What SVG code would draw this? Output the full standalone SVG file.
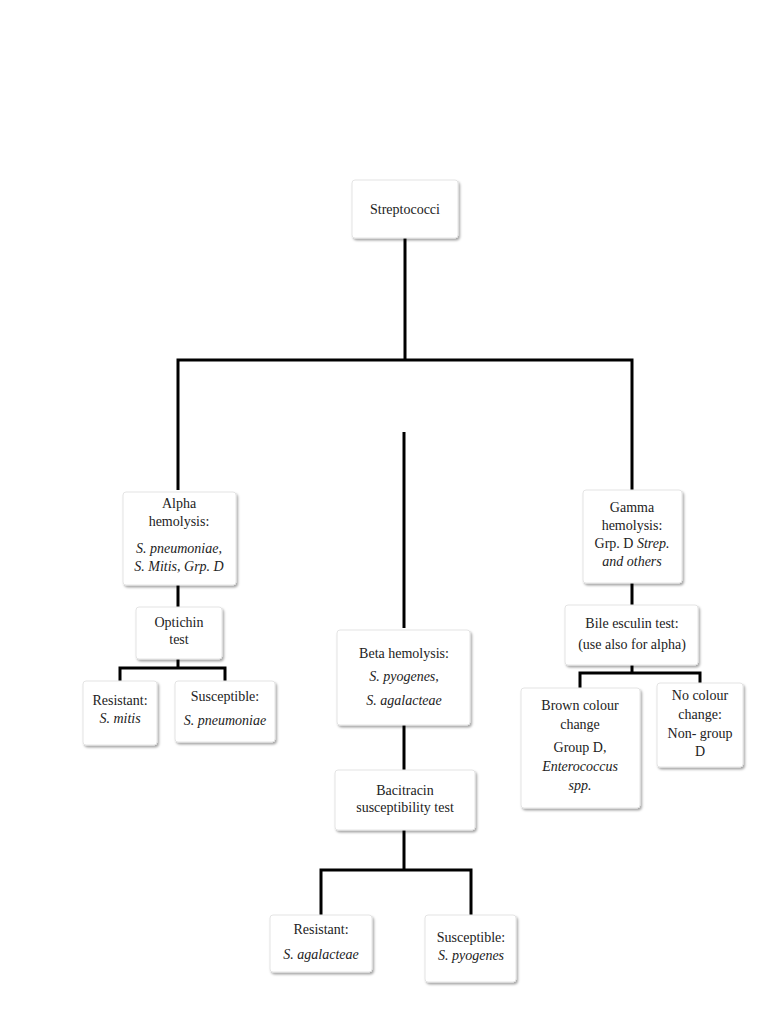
<svg xmlns="http://www.w3.org/2000/svg" width="768" height="1024" viewBox="0 0 768 1024">
<defs>
<filter id="sh" x="-10%" y="-10%" width="130%" height="130%"><feDropShadow dx="1.5" dy="2" stdDeviation="1.2" flood-color="#000" flood-opacity="0.35"/></filter>
</defs>
<style>
.b{fill:#fff;stroke:#e4e4e4;stroke-width:1;filter:url(#sh)}
text{font-family:"Liberation Serif",serif;font-size:14px;fill:#222;text-anchor:middle}
.i{font-style:italic}
.c{stroke:#000;stroke-width:3;fill:none}
</style>
<rect width="768" height="1024" fill="#fff"/>
<g id="connectors">
<path class="c" d="M405 238V360M178 490V360H632V490"/>
<path class="c" d="M404 432V628"/>
<path class="c" d="M178 585V607M178 659V668M120 684V668H225V684"/>
<path class="c" d="M404 725V770M404 830V870M321 915V870H471V915"/>
<path class="c" d="M632 583V605M632 665V673M580 688V673H700V685"/>
</g>
<g id="n-strep"><rect class="b" x="352" y="180" width="106" height="58" rx="3"/><text x="405" y="214">Streptococci</text></g>
<g id="n-alpha"><rect class="b" x="123" y="492" width="113" height="93" rx="3"/><text x="179" y="508">Alpha</text><text x="179" y="526">hemolysis:</text><text class="i" x="179" y="553">S. pneumoniae,</text><text class="i" x="179" y="571">S. Mitis, Grp. D</text></g>
<g id="n-opt"><rect class="b" x="136" y="607" width="86" height="52" rx="3"/><text x="179" y="627">Optichin</text><text x="179" y="644">test</text></g>
<g id="n-res1"><rect class="b" x="83" y="681" width="74" height="64" rx="3"/><text x="120" y="705">Resistant:</text><text class="i" x="120" y="723">S. mitis</text></g>
<g id="n-sus1"><rect class="b" x="175" y="681" width="100" height="61" rx="3"/><text x="225" y="701">Susceptible:</text><text class="i" x="225" y="725">S. pneumoniae</text></g>
<g id="n-beta"><rect class="b" x="337" y="630" width="133" height="95" rx="3"/><text x="404" y="658">Beta hemolysis:</text><text class="i" x="404" y="681">S. pyogenes,</text><text class="i" x="404" y="705">S. agalacteae</text></g>
<g id="n-baci"><rect class="b" x="335" y="770" width="140" height="60" rx="3"/><text x="405" y="795">Bacitracin</text><text x="405" y="812">susceptibility test</text></g>
<g id="n-res2"><rect class="b" x="270" y="915" width="102" height="57" rx="3"/><text x="321" y="934">Resistant:</text><text class="i" x="321" y="959">S. agalacteae</text></g>
<g id="n-sus2"><rect class="b" x="425" y="915" width="91" height="67" rx="3"/><text x="471" y="942">Susceptible:</text><text class="i" x="471" y="960">S. pyogenes</text></g>
<g id="n-gamma"><rect class="b" x="583" y="490" width="99" height="93" rx="3"/><text x="632" y="512">Gamma</text><text x="632" y="530">hemolysis:</text><text x="632" y="548">Grp. D <tspan class="i">Strep.</tspan></text><text class="i" x="632" y="566">and others</text></g>
<g id="n-bile"><rect class="b" x="565" y="605" width="133" height="60" rx="3"/><text x="632" y="628">Bile esculin test:</text><text x="632" y="649">(use also for alpha)</text></g>
<g id="n-brown"><rect class="b" x="521" y="688" width="119" height="120" rx="3"/><text x="580" y="710">Brown colour</text><text x="580" y="729">change</text><text x="580" y="752">Group D,</text><text class="i" x="580" y="771">Enterococcus</text><text class="i" x="580" y="790">spp.</text></g>
<g id="n-nocol"><rect class="b" x="657" y="683" width="86" height="84" rx="3"/><text x="700" y="700">No colour</text><text x="700" y="719">change:</text><text x="700" y="738">Non- group</text><text x="700" y="756">D</text></g>
</svg>
